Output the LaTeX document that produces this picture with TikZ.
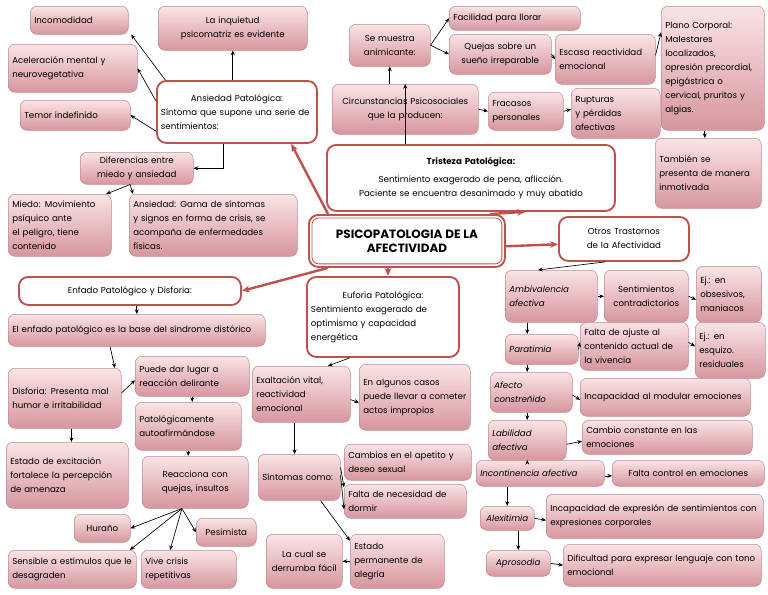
\documentclass[tikz,border=0pt]{standalone}
\usepackage{fontspec}
\setmainfont{Poppins}
\usetikzlibrary{calc,arrows.meta}
\definecolor{dred}{RGB}{192,80,77}
\definecolor{pktop}{RGB}{250,228,230}
\definecolor{pkbot}{RGB}{214,150,158}
\definecolor{pkline}{RGB}{190,140,145}
\tikzset{
 base/.style={rounded corners=5pt, inner sep=2pt, font=\fontsize{6.5}{10.5}\selectfont},
 pk/.style={base, draw=pkline, top color=pktop, bottom color=pkbot, align=left},
 pkc/.style={pk, align=center},
 wt/.style={base, draw=dred, line width=1.4pt, fill=white, rounded corners=7pt, align=center},
 ar/.style={-{Stealth[length=3.5pt,width=3pt]}, line width=0.5pt},
 rar/.style={-{Stealth[length=6pt,width=5pt]}, line width=1.8pt, draw=dred},
}
\newcommand\bx[7]{%
 \pgfmathsetmacro\ww{(#5-#3)*0.75}\pgfmathsetmacro\hh{(#6-#4)*0.75}\pgfmathsetmacro\tw{\ww-6}%
 \node[#1, minimum width=\ww pt, minimum height=\hh pt, text width=\tw pt, anchor=north west] (#2) at (#3,#4) {#7};}
\begin{document}
\hyphenpenalty=10000 \exhyphenpenalty=10000
\begin{tikzpicture}[x=0.75pt,y=-0.75pt]
\useasboundingbox[fill=white] (0,0) rectangle (768,594);
% pink boxes
\bx{pk}{inc}{30}{6}{128}{34}{Incomodidad}
\bx{pkc}{inq}{158}{6}{307}{50}{La inquietud psicomatriz es evidente}
\bx{pk}{acel}{8}{44}{137}{92}{Aceleración mental y neurovegetativa}
\bx{pk}{tem}{20}{100}{130}{130}{Temor indefinido}
\bx{pkc}{dif}{80}{152}{193}{184}{Diferencias entre miedo y ansiedad}
\bx{pk}{mie}{8}{194}{111}{256}{Miedo: Movimiento psíquico ante el peligro, tiene contenido}
\bx{pk}{ans}{129}{194}{297}{256}{Ansiedad: Gama de síntomas y signos en forma de crisis, se acompaña de enfermedades físicas.}
\bx{pkc}{mues}{349}{24}{430}{66}{Se muestra animicante:}
\bx{pk}{fac}{449}{6}{580}{30}{Facilidad para llorar}
\bx{pkc}{que}{449}{34}{551}{74}{Quejas sobre un sueño irreparable}
\bx{pk}{esc}{555}{34}{655}{84}{Escasa reactividad emocional}
\bx{pk}{pla}{661}{6}{764}{130}{Plano Corporal: Malestares localizados, opresión precordial, epigástrica o cervical, pruritos y algias.}
\bx{pkc}{cir}{332}{84}{478}{134}{Circunstancias Psicosociales que la producen:}
\bx{pk}{fra}{488}{92}{563}{130}{Fracasos personales}
\bx{pk}{rup}{571}{88}{660}{138}{Rupturas y pérdidas afectivas}
\bx{pk}{tam}{655}{138}{761}{208}{También se presenta de manera inmotivada}
\bx{pk}{bas}{8}{314}{265}{346}{El enfado patológico es la base del síndrome distórico}
\bx{pk}{dis}{8}{368}{121}{428}{Disforia: Presenta mal humor e irritabilidad}
\bx{pk}{pue}{135}{356}{249}{396}{Puede dar lugar a reacción delirante}
\bx{pk}{pat}{135}{402}{241}{450}{Patológicamente autoafirmándose}
\bx{pk}{est}{6}{442}{128}{508}{Estado de excitación fortalece la percepción de amenaza}
\bx{pkc}{rea}{142}{456}{248}{508}{Reacciona con quejas, insultos}
\bx{pkc}{hur}{74}{514}{130}{542}{Huraño}
\bx{pkc}{pes}{196}{518}{256}{546}{Pesimista}
\bx{pk}{sen}{8}{550}{136}{588}{Sensible a estímulos que le desagraden}
\bx{pk}{viv}{141}{550}{236}{588}{Vive crisis repetitivas}
\bx{pk}{exa}{252}{366}{350}{422}{Exaltación vital, reactividad emocional}
\bx{pk}{alg}{359}{364}{470}{430}{En algunos casos puede llevar a cometer actos impropios}
\bx{pk}{sin}{258}{454}{340}{500}{Síntomas como:}
\bx{pk}{cam}{344}{444}{471}{480}{Cambios en el apetito y deseo sexual}
\bx{pk}{fal}{344}{484}{466}{518}{Falta de necesidad de dormir}
\bx{pkc}{cua}{266}{534}{342}{588}{La cual se derrumba fácil}
\bx{pk}{epa}{350}{534}{444}{588}{Estado permanente de alegría}
\bx{pk}{amb}{505}{270}{597}{322}{\textit{Ambivalencia afectiva}}
\bx{pkc}{senc}{604}{270}{688}{322}{Sentimientos contradictorios}
\bx{pk}{ej1}{696}{266}{761}{322}{Ej.: en obsesivos, maniacos}
\bx{pk}{par}{505}{334}{578}{364}{\textit{Paratimia}}
\bx{pk}{faj}{580}{322}{688}{370}{Falta de ajuste al contenido actual de la vivencia}
\bx{pk}{ej2}{695}{322}{765}{378}{Ej.: en esquizo. residuales}
\bx{pk}{afe}{490}{372}{572}{412}{\textit{Afecto constreñido}}
\bx{pk}{inm}{580}{378}{750}{416}{Incapacidad al modular emociones}
\bx{pk}{lab}{488}{420}{566}{460}{\textit{Labilidad afectiva}}
\bx{pk}{cac}{582}{420}{752}{454}{Cambio constante en las emociones}
\bx{pk}{ico}{476}{460}{604}{486}{\textit{Incontinencia afectiva}}
\bx{pkc}{fco}{612}{460}{764}{486}{Falta control en emociones}
\bx{pkc}{ale}{480}{506}{534}{530}{\textit{Alexitimia}}
\bx{pk}{iex}{546}{494}{763}{538}{Incapacidad de expresión de sentimientos con expresiones corporales}
\bx{pkc}{apr}{486}{550}{550}{576}{\textit{Aprosodia}}
\bx{pk}{dif2}{563}{544}{761}{586}{Dificultad para expresar lenguaje con tono emocional}
% white boxes
\bx{wt}{W1}{156}{80}{316}{142}{Ansiedad Patológica:\\[3pt]\parbox{\tw pt}{Síntoma que supone una serie de sentimientos:}}
\bx{wt}{W2}{326}{144}{614}{210}{\textbf{Tristeza Patológica:}\\[3pt]Sentimiento exagerado de pena, aflicción. Paciente se encuentra desanimado y muy abatido}
\bx{wt}{W3}{308}{214}{504}{266}{\fontsize{9}{13}\selectfont\bfseries PSICOPATOLOGIA DE LA\\AFECTIVIDAD}
\bx{wt}{W4}{558}{216}{688}{260}{Otros Trastornos de la Afectividad}
\bx{wt}{W5}{18}{276}{240}{304}{Enfado Patológico y Disforia:}
\bx{wt}{W6}{306}{276}{458}{356}{Euforia Patológica:\\[3pt]\parbox{\tw pt}{Sentimiento exagerado de optimismo y capacidad energética}}
\draw[dred,line width=0.6pt,rounded corners=5pt] ($(W3.north west)+(3pt,-3pt)$) rectangle ($(W3.south east)+(-3pt,3pt)$);
% red arrows
\draw[rar] ([xshift=15pt]W3.north west) -- ([xshift=-20pt]W1.south east);
\draw[rar] ([xshift=-12pt]W3.north east) -- ([xshift=-68pt]W2.south east);
\draw[rar] ([yshift=-4pt]W3.east) -- ([yshift=-4pt]W4.west);
\draw[rar] ([xshift=15pt]W3.south west) -- (W5.east);
\draw[rar] ([xshift=60pt]W3.south west) -- ([xshift=60pt]W3.south west |- W6.north);
% black arrows
\draw[ar] ([xshift=7pt]W1.north west) -- ([xshift=2pt]inc.south east);
\draw[ar] ($(W1.north west)!0.33!(W1.south west)$) -- (acel.east);
\draw[ar] ($(W1.north west)!0.8!(W1.south west)$) -- (tem.east);
\draw[ar] (W1.north -| inq.south) -- (inq.south);
\draw[ar] ([xshift=-10.5pt]W1.south) |- (dif.east);
\draw[ar] ([xshift=-5pt]dif.south) -- ([xshift=-4pt]mie.north east);
\draw[ar] ([xshift=-5pt]dif.south) -- ([xshift=3pt]ans.north west);
\draw[ar] (W2.north -| cir.north) -- (cir.north);
\draw[ar] (cir.north -| mues.south) -- (mues.south);
\draw[ar] (mues.east) -- (fac.west);
\draw[ar] (mues.east) -- (que.west);
\draw[ar] (que.east) -- (esc.west);
\draw[ar] ([yshift=3pt]esc.east) -- ([yshift=27pt]pla.west);
\draw[ar] ([xshift=-6pt]pla.south) -- ([xshift=-6pt]pla.south |- tam.north);
\draw[ar] (cir.east) -- (fra.west);
\draw[ar] (fra.east) -- ([yshift=3pt]rup.west);
\draw[ar] (W5.south -| bas.north) -- (bas.north);
\draw[ar] ([xshift=-20pt]bas.south) -- ([xshift=-5pt]dis.north east);
\draw[ar] ([yshift=4pt]dis.east) -- ([yshift=-3pt]pue.west);
\draw[ar] ([xshift=5pt]dis.south) -- ([xshift=5pt]dis.south |- est.north);
\draw[ar] (pue.south) -- (pue.south |- pat.north);
\draw[ar] (pat.south) -- (pat.south |- rea.north);
\draw[ar] ([xshift=-10pt]rea.south) -- (hur.east);
\draw[ar] ([xshift=-10pt]rea.south) -- (pes.west);
\draw[ar] ([xshift=-10pt]rea.south) -- ([xshift=-5pt]sen.north east);
\draw[ar] ([xshift=-10pt]rea.south) -- ([xshift=-14pt]viv.north);
\draw[ar] ([xshift=-25pt]W6.south) -- ([xshift=20pt]exa.north);
\draw[ar] ([yshift=-4pt]exa.east) -- ([yshift=-4pt]alg.west);
\draw[ar] ([xshift=-5pt]exa.south) -- ([xshift=-5pt]exa.south |- sin.north);
\draw[ar] ([yshift=-10pt]sin.north east) -- ([yshift=-5pt]cam.south west);
\draw[ar] ([yshift=-16pt]sin.north east) -- ([yshift=-6pt]fal.west);
\draw[ar] ([xshift=-15pt]sin.south east) -- ([yshift=-5pt]epa.north west);
\draw[ar] (epa.west) -- (cua.east);
\draw[ar] ([xshift=-14pt]W4.south) -- ([xshift=-10pt]amb.north);
\draw[ar] (amb.east) -- (senc.west);
\draw[ar] (senc.east) -- ([yshift=-4pt]ej1.west);
\draw[ar] ([xshift=-18pt]amb.south) -- ([xshift=-18pt]amb.south |- par.north);
\draw[ar] (par.east) -- ([yshift=3pt]faj.west);
\draw[ar] ([yshift=3pt]faj.east) -- ([yshift=3pt]ej2.west);
\draw[ar] ([xshift=-18pt]amb.south |- par.south) -- ([xshift=-18pt]amb.south |- afe.north);
\draw[ar] ([yshift=-2pt]afe.east) -- ([yshift=-2pt]inm.west);
\draw[ar] ([xshift=-18pt]amb.south |- afe.south) -- ([xshift=-18pt]amb.south |- lab.north);
\draw[ar] ([yshift=-3pt]lab.east) -- ([yshift=-3pt]cac.west);
\draw[ar] ([xshift=-18pt]amb.south |- lab.south) -- ([xshift=-18pt]amb.south |- ico.north);
\draw[ar] ([yshift=-2pt]ico.east) -- ([yshift=-2pt]fco.west);
\draw[ar] (ico.south -| ale.north) -- (ale.north);
\draw[ar] (ale.east) -- ([yshift=-3pt]iex.west);
\draw[ar] (ale.south -| apr.north) -- (apr.north);
\draw[ar] (apr.east) -- (dif2.west);
\end{tikzpicture}
\end{document}
